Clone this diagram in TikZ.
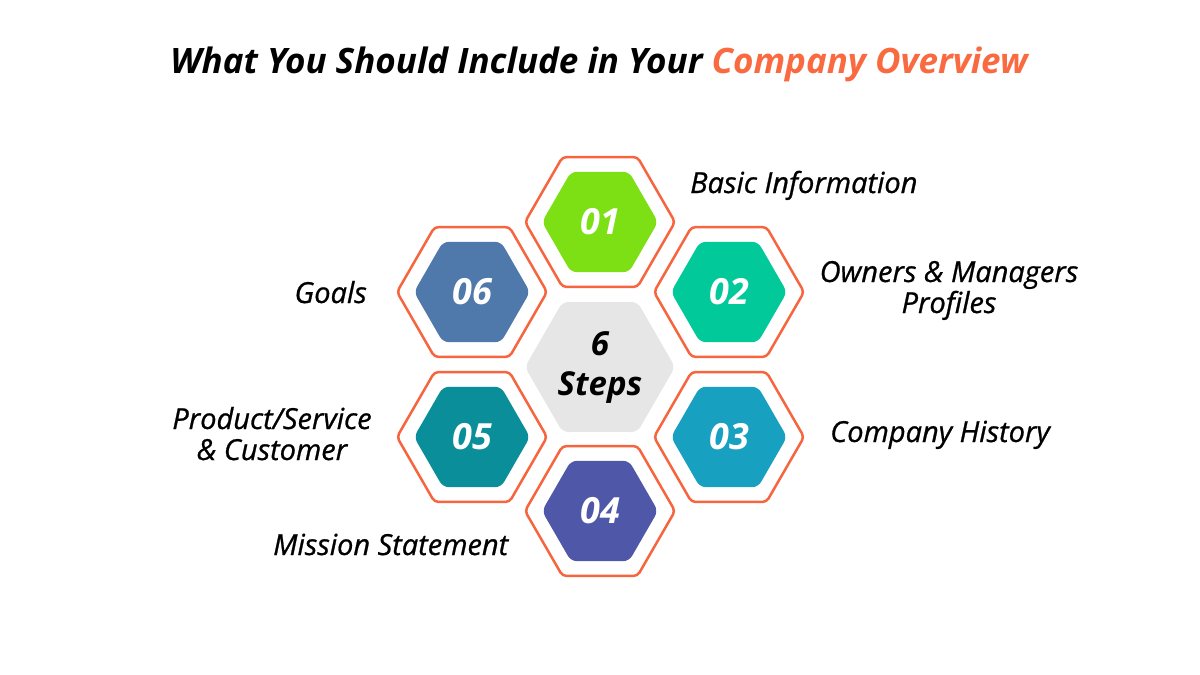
\documentclass[tikz,border=0pt]{standalone}
\usepackage{fontspec}
\setmainfont{Open Sans}
\newfontfamily\labelfont[FakeBold=0.8]{Open Sans}
\usetikzlibrary{shapes.geometric}
\definecolor{hexline}{HTML}{F7653F}
\definecolor{titleorange}{HTML}{FA6A40}
\definecolor{cOne}{HTML}{7CE015}
\definecolor{cTwo}{HTML}{02C99A}
\definecolor{cThree}{HTML}{17A0C0}
\definecolor{cFour}{HTML}{4F58A8}
\definecolor{cFive}{HTML}{0A8F9A}
\definecolor{cSix}{HTML}{4E79AA}
\definecolor{coregray}{HTML}{E6E6E6}

\begin{document}
\begin{tikzpicture}[x=1pt,y=-1pt,
  outerhex/.style={regular polygon,regular polygon sides=6,inner sep=0pt,minimum size=150,draw=hexline,line width=2.5pt,fill=white,rounded corners=4pt},
  innerhex/.style={regular polygon,regular polygon sides=6,inner sep=0pt,minimum size=116,fill=#1,rounded corners=6pt,text=white,font=\fontsize{36}{40}\selectfont\bfseries\itshape},
  lbl/.style={inner sep=0pt,font=\fontsize{29}{31}\selectfont\labelfont\itshape}]
\path[use as bounding box,fill=white] (0,0) rectangle (1200,675);
\node[anchor=base,inner sep=0pt,font=\fontsize{35}{42}\selectfont\bfseries\itshape] (title) at (599,73) {What You Should Include in Your \textcolor{titleorange}{Company Overview}};
\node[regular polygon,regular polygon sides=6,inner sep=0pt,minimum size=150,fill=coregray,rounded corners=6pt,align=center,font=\fontsize{33}{40}\selectfont\bfseries\itshape] (core) at (600,367) {6\\Steps};
\node[outerhex] (o1) at (600,222) {};
\node[innerhex=cOne] (h1) at (600,222) {01};
\node[outerhex] (o2) at (729,292) {};
\node[innerhex=cTwo] (h2) at (729,292) {02};
\node[outerhex] (o3) at (729,437) {};
\node[innerhex=cThree] (h3) at (729,437) {03};
\node[outerhex] (o4) at (600,511) {};
\node[innerhex=cFour] (h4) at (600,511) {04};
\node[outerhex] (o5) at (472,437) {};
\node[innerhex=cFive] (h5) at (472,437) {05};
\node[outerhex] (o6) at (472,292) {};
\node[innerhex=cSix] (h6) at (472,292) {06};
\node[lbl,anchor=base west] (l1) at (690,193) {Basic Information};
\node[lbl,anchor=base,align=center] (l2) at (949,313) {Owners \& Managers\\Profiles};
\node[lbl,anchor=base west] (l3) at (830,442) {Company History};
\node[lbl,anchor=base west] (l4) at (273,555) {Mission Statement};
\node[lbl,anchor=base,align=center] (l5) at (272,460) {Product/Service\\\& Customer};
\node[lbl,anchor=base east] (l6) at (367,303) {Goals};
\end{tikzpicture}
\end{document}
